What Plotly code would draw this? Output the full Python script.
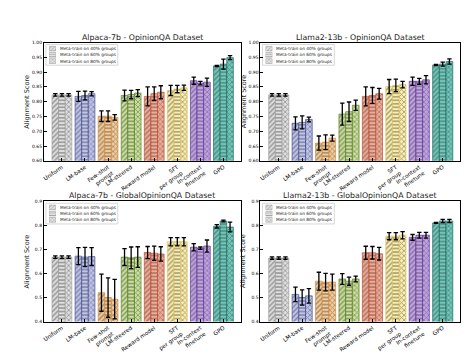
import plotly.graph_objects as go

categories = ["Uniform", "LM-base", "Few-shot<br>prompt", "LM-steered", "Reward model",
              "SFT<br>per group", "In-context<br>finetune", "GPO"]
series_names = ["Meta-train on 40% groups", "Meta-train on 60% groups", "Meta-train on 80% groups"]
panel_titles = ["Alpaca-7b - OpinionQA Dataset", "Llama2-13b - OpinionQA Dataset",
                "Alpaca-7b - GlobalOpinionQA Dataset", "Llama2-13b - GlobalOpinionQA Dataset"]

# Alpaca-7b OpinionQA
a_oqa_40 = [0.823, 0.818, 0.751, 0.821, 0.818, 0.838, 0.871, 0.921]
a_oqa_60 = [0.823, 0.821, 0.751, 0.824, 0.827, 0.843, 0.863, 0.927]
a_oqa_80 = [0.823, 0.827, 0.747, 0.829, 0.832, 0.847, 0.866, 0.949]
a_oqa_40_err = [0.004, 0.017, 0.018, 0.018, 0.032, 0.017, 0.012, 0.002]
a_oqa_60_err = [0.004, 0.015, 0.018, 0.014, 0.023, 0.012, 0.006, 0.017]
a_oqa_80_err = [0.004, 0.007, 0.009, 0.012, 0.022, 0.009, 0.014, 0.007]

# Llama2-13b OpinionQA
l_oqa_40 = [0.823, 0.727, 0.660, 0.758, 0.818, 0.851, 0.869, 0.924]
l_oqa_60 = [0.823, 0.730, 0.663, 0.766, 0.821, 0.855, 0.869, 0.927]
l_oqa_80 = [0.823, 0.740, 0.677, 0.788, 0.827, 0.858, 0.874, 0.936]
l_oqa_40_err = [0.004, 0.022, 0.024, 0.037, 0.032, 0.024, 0.014, 0.002]
l_oqa_60_err = [0.004, 0.022, 0.025, 0.033, 0.027, 0.021, 0.010, 0.007]
l_oqa_80_err = [0.004, 0.008, 0.010, 0.017, 0.018, 0.011, 0.014, 0.009]

# Alpaca-7b GlobalOpinionQA
a_goqa_40 = [0.668, 0.672, 0.520, 0.668, 0.687, 0.732, 0.709, 0.796]
a_goqa_60 = [0.668, 0.668, 0.500, 0.665, 0.684, 0.732, 0.705, 0.818]
a_goqa_80 = [0.668, 0.670, 0.493, 0.668, 0.681, 0.732, 0.714, 0.793]
a_goqa_40_err = [0.005, 0.035, 0.077, 0.035, 0.025, 0.017, 0.015, 0.007]
a_goqa_60_err = [0.005, 0.040, 0.082, 0.045, 0.030, 0.017, 0.005, 0.004]
a_goqa_80_err = [0.005, 0.037, 0.082, 0.043, 0.030, 0.017, 0.025, 0.020]

# Llama2-13b GlobalOpinionQA
l_goqa_40 = [0.664, 0.513, 0.568, 0.577, 0.686, 0.755, 0.750, 0.810]
l_goqa_60 = [0.664, 0.500, 0.564, 0.568, 0.686, 0.755, 0.759, 0.818]
l_goqa_80 = [0.664, 0.507, 0.564, 0.577, 0.682, 0.759, 0.759, 0.818]
l_goqa_40_err = [0.005, 0.030, 0.037, 0.022, 0.027, 0.015, 0.012, 0.002]
l_goqa_60_err = [0.005, 0.032, 0.036, 0.017, 0.026, 0.015, 0.012, 0.007]
l_goqa_80_err = [0.005, 0.030, 0.033, 0.012, 0.026, 0.015, 0.012, 0.007]

panels = [
    ([a_oqa_40, a_oqa_60, a_oqa_80], [a_oqa_40_err, a_oqa_60_err, a_oqa_80_err]),
    ([l_oqa_40, l_oqa_60, l_oqa_80], [l_oqa_40_err, l_oqa_60_err, l_oqa_80_err]),
    ([a_goqa_40, a_goqa_60, a_goqa_80], [a_goqa_40_err, a_goqa_60_err, a_goqa_80_err]),
    ([l_goqa_40, l_goqa_60, l_goqa_80], [l_goqa_40_err, l_goqa_60_err, l_goqa_80_err]),
]

# styles
cat_bg = ["#e0e0e0", "#c0c5ee", "#f6cc98", "#cae296", "#f4ab94", "#fbeeae", "#c3a2ea", "#6ccabb"]
cat_fg = ["#959595", "#2f3c8a", "#d48224", "#43700c", "#c2361a", "#dcc044", "#4e1f88", "#085a54"]
shapes_pat = ["/", "-", "x"]

W, H = 474, 357
def px_x(p): return p / W
def px_y(p): return 1 - p / H

x_doms = [(px_x(35), px_x(232)), (px_x(252), px_x(452)), (px_x(35), px_x(232)), (px_x(252), px_x(452))]
y_doms = [(px_y(153), px_y(33)), (px_y(153), px_y(33)), (px_y(316), px_y(194)), (px_y(316), px_y(194))]
y_ranges = [[0.6, 1.0], [0.6, 1.0], [0.4, 0.9], [0.4, 0.9]]
y_ticks = [[0.60, 0.65, 0.70, 0.75, 0.80, 0.85, 0.90, 0.95, 1.00]] * 2 + [[0.4, 0.5, 0.6, 0.7, 0.8, 0.9]] * 2
y_fmt = [".2f", ".2f", ".1f", ".1f"]

fig = go.Figure()
font_family = "DejaVu Sans"

for p, (vals, errs) in enumerate(panels):
    xa = "x" if p == 0 else f"x{p+1}"
    ya = "y" if p == 0 else f"y{p+1}"
    for s in range(3):
        fig.add_trace(go.Bar(
            x=categories, y=vals[s], name=series_names[s], showlegend=False,
            xaxis=xa, yaxis=ya, offsetgroup=str(s),
            marker=dict(color=cat_bg,
                        line=dict(color=cat_fg, width=0.6),
                        pattern=dict(shape=shapes_pat[s], fgcolor=cat_fg,
                                     size=3.5, solidity=0.42, fillmode="overlay")),
            error_y=dict(type="data", array=errs[s], color="black", thickness=1.3, width=2.2),
        ))

# legend key swatches (one small key box per panel, drawn on its own little axis)
legend_rows = list(range(len(series_names)))
legend_len = [1] * len(series_names)
for p in range(4):
    n = 5 + p
    fig.add_trace(go.Bar(
        y=legend_rows, x=legend_len, orientation="h", width=0.75, showlegend=False,
        xaxis=f"x{n}", yaxis=f"y{n}", hoverinfo="skip",
        marker=dict(color="#e8e8e8", line=dict(color="#7a7a7a", width=0.4),
                    pattern=dict(shape=shapes_pat, fgcolor="#7a7a7a", size=2.5,
                                 solidity=0.4, fillmode="overlay")),
    ))

layout = dict(
    width=W, height=H, margin=dict(l=0, r=0, t=0, b=0),
    paper_bgcolor="white", plot_bgcolor="white",
    barmode="group", bargap=0.14, bargroupgap=0.0,
    font=dict(family=font_family, color="black"),
    showlegend=False,
)
annotations = []
shapes = []
for p in range(4):
    sfx = "" if p == 0 else str(p + 1)
    layout[f"xaxis{sfx}"] = dict(
        domain=x_doms[p], anchor=f"y{sfx}", range=[-0.78, 7.74],
        showline=True, mirror=True, linecolor="black", linewidth=1,
        ticks="inside", ticklen=3, tickcolor="black", tickangle=-35,
        tickfont=dict(size=5.6, family=font_family), showgrid=False,
    )
    layout[f"yaxis{sfx}"] = dict(
        domain=y_doms[p], anchor=f"x{sfx}", range=y_ranges[p],
        tickvals=y_ticks[p], tickformat=y_fmt[p],
        showline=True, mirror=True, linecolor="black", linewidth=1,
        ticks="inside", ticklen=3, tickcolor="black",
        tickfont=dict(size=4.5, family=font_family), showgrid=False, zeroline=False,
    )
    # legend box geometry (pixels)
    lx0 = x_doms[p][0] * W + 2
    lx1 = lx0 + 72
    ly0 = (1 - y_doms[p][1]) * H + 2
    ly1 = ly0 + 21
    n = 5 + p
    layout[f"xaxis{n}"] = dict(domain=[px_x(lx0 + 3), px_x(lx0 + 10)], anchor=f"y{n}",
                               range=[0, 1], visible=False, fixedrange=True)
    layout[f"yaxis{n}"] = dict(domain=[px_y(ly1 - 1), px_y(ly0 + 1)], anchor=f"x{n}",
                               range=[2.5, -0.5], visible=False, fixedrange=True)
    shapes.append(dict(type="rect", xref="paper", yref="paper",
                       x0=px_x(lx0), x1=px_x(lx1), y0=px_y(ly1), y1=px_y(ly0),
                       line=dict(color="#bdbdbd", width=0.6), fillcolor="rgba(255,255,255,0.9)",
                       layer="below"))
    row_h = (ly1 - ly0 - 2) / 3
    for i, nm in enumerate(series_names):
        annotations.append(dict(
            text=nm, xref="paper", yref="paper",
            x=px_x(lx0 + 12), y=px_y(ly0 + 1 + row_h * (i + 0.5)),
            xanchor="left", yanchor="middle",
            showarrow=False, font=dict(size=4.3, family=font_family, color="#222"),
        ))
    annotations.append(dict(
        text=panel_titles[p], xref="paper", yref="paper",
        x=(x_doms[p][0] + x_doms[p][1]) / 2, y=y_doms[p][1], yanchor="bottom", xanchor="center",
        yshift=-1, showarrow=False, font=dict(size=7.8, family=font_family, color="#222"),
    ))
    annotations.append(dict(
        text="Alignment Score", xref="paper", yref="paper", textangle=-90,
        x=x_doms[p][0] - px_x(17), y=(y_doms[p][0] + y_doms[p][1]) / 2,
        xanchor="center", yanchor="middle", showarrow=False,
        font=dict(size=6.5, family=font_family, color="#222"),
    ))
layout["annotations"] = annotations
layout["shapes"] = shapes
fig.update_layout(**layout)
fig.write_html("out.html")
